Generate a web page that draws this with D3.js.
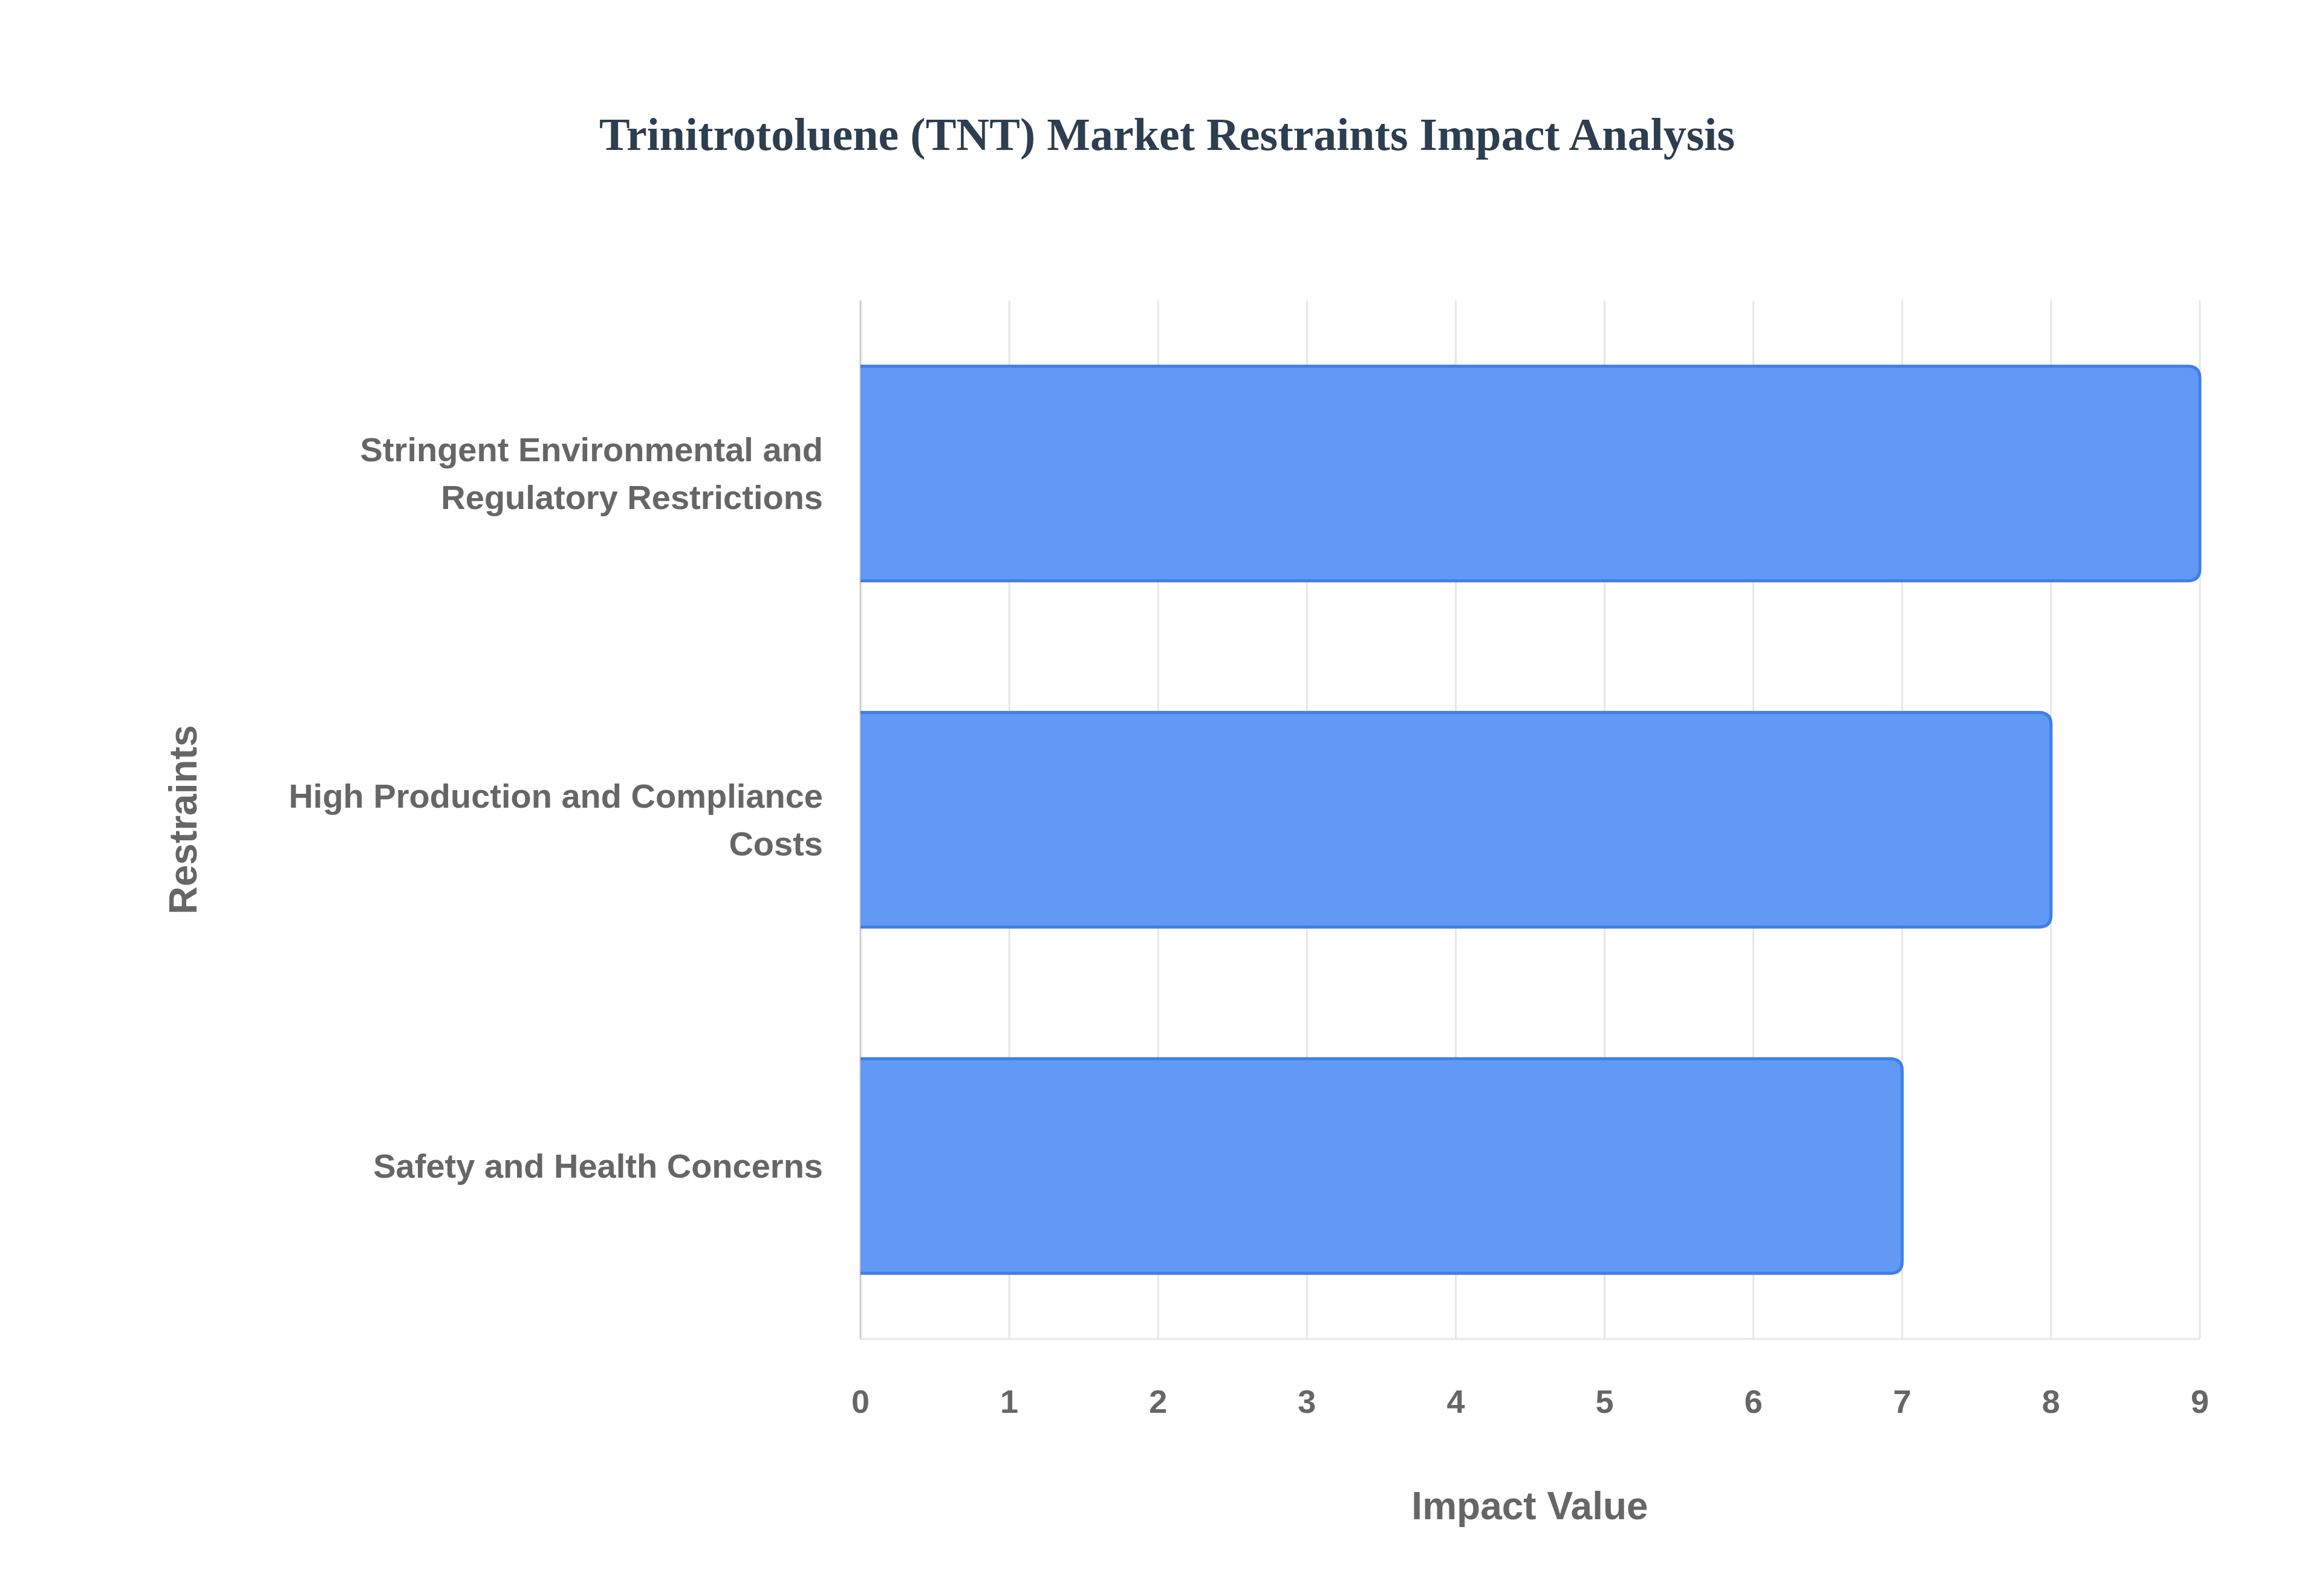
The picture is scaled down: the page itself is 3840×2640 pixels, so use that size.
<!DOCTYPE html>
<html><head><meta charset="utf-8">
<script src="https://cdn.jsdelivr.net/npm/d3@7"></script>
<style>body{margin:0;background:#fff}</style></head>
<body><svg id="c" width="3840" height="2640"></svg>
<script>
const categories = [["Stringent Environmental and","Regulatory Restrictions"],["High Production and Compliance","Costs"],["Safety and Health Concerns"]];
const values = [9, 8, 7];
const ticks = [0,1,2,3,4,5,6,7,8,9];

const svg = d3.select("#c");
const m = {l:1423, r:3638, t:497, b:2215};
const x = d3.scaleLinear().domain([0,9]).range([m.l, m.r]);
const y = d3.scaleBand().domain(d3.range(categories.length)).range([m.t, m.b]).paddingInner(0.38).paddingOuter(0.19);

svg.append("text").attr("x",1930).attr("y",248).attr("text-anchor","middle")
 .attr("font-family","Liberation Serif, serif").attr("font-weight","bold").attr("font-size",76)
 .attr("fill","#2c3e50").text("Trinitrotoluene (TNT) Market Restraints Impact Analysis");

const g = svg.append("g");
g.selectAll("line.grid").data(ticks).join("line")
 .attr("x1",d=>x(d)).attr("x2",d=>x(d)).attr("y1",m.t).attr("y2",m.b)
 .attr("stroke",d=>d===0?"#cccccc":"#e6e6e6").attr("stroke-width",3);
g.append("line").attr("x1",m.l).attr("x2",m.r).attr("y1",m.b).attr("y2",m.b).attr("stroke","#e6e6e6").attr("stroke-width",3);

const r = 20;
g.selectAll("path.bar").data(values).join("path")
 .attr("d",(v,i)=>{const x0=x(0),x1=x(v),y0=y(i),y1=y(i)+y.bandwidth();
   return `M${x0},${y0}H${x1-r}Q${x1},${y0} ${x1},${y0+r}V${y1-r}Q${x1},${y1} ${x1-r},${y1}H${x0}`;})
 .attr("fill","#6199f5").attr("stroke","#3f7fe8").attr("stroke-width",5);

const font="Liberation Sans, Arial, sans-serif";
categories.forEach((lines,i)=>{
  const cy=y(i)+y.bandwidth()/2, lh=79;
  lines.forEach((t,j)=>{
    svg.append("text").attr("x",1361).attr("y",cy+(j-(lines.length-1)/2)*lh+19)
     .attr("text-anchor","end").attr("font-family",font).attr("font-weight","bold")
     .attr("font-size",56).attr("fill","#666").text(t);
  });
});
svg.selectAll("text.tick").data(ticks).join("text")
 .attr("x",d=>x(d)).attr("y",2337).attr("text-anchor","middle").attr("font-family",font)
 .attr("font-weight","bold").attr("font-size",54).attr("fill","#666").text(d=>d);
svg.append("text").attr("x",2530).attr("y",2513).attr("text-anchor","middle").attr("font-family",font)
 .attr("font-weight","bold").attr("font-size",64).attr("fill","#666").text("Impact Value");
svg.append("text").attr("transform","translate(325,1356) rotate(-90)").attr("text-anchor","middle").attr("font-family",font)
 .attr("font-weight","bold").attr("font-size",64).attr("fill","#666").text("Restraints");
</script></body></html>
